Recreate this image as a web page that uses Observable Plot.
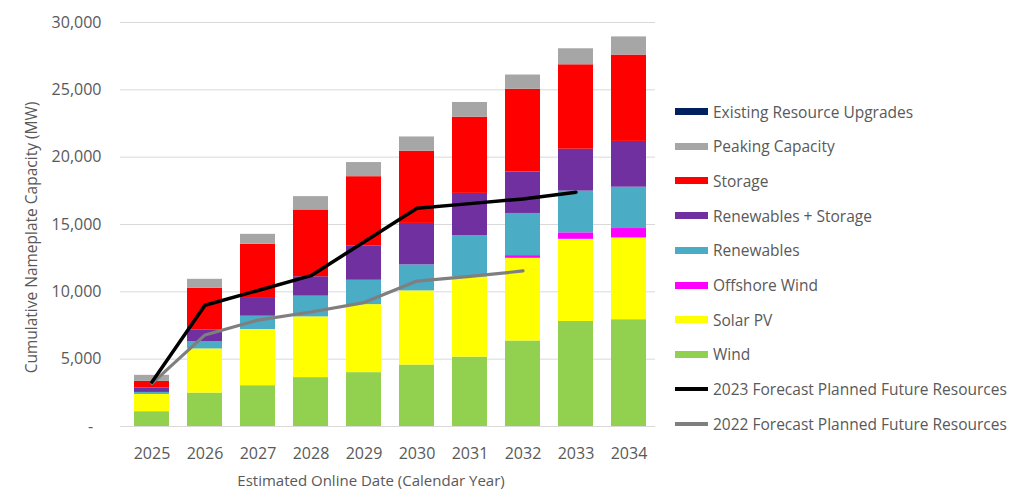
<!DOCTYPE html>
<html>
<head>
<meta charset="utf-8">
<script src="https://cdn.jsdelivr.net/npm/d3@7"></script>
<script src="https://cdn.jsdelivr.net/npm/@observablehq/plot@0.6"></script>
<style>
  html, body { margin: 0; padding: 0; background: #fff; }
  #wrap { position: relative; width: 1016px; height: 500px; font-family: "Open Sans", sans-serif; }
  #legend { position: absolute; left: 675px; top: 0; }
  .item { position: absolute; left: 0; display: flex; align-items: center; white-space: nowrap;
          font-size: 15.5px; color: #595959; transform: translateY(-50%); }
  .sw { width: 33px; margin-right: 5px; }
</style>
</head>
<body>
<div id="wrap"><div id="legend"></div></div>
<script>
// Calendar years on the x axis
const years = [2025, 2026, 2027, 2028, 2029, 2030, 2031, 2032, 2033, 2034];

// Cumulative nameplate capacity (MW) by resource type
const wind              = [1100, 2480, 3030, 3630, 4000, 4560, 5150, 6350, 7800, 7930];
const solarPV           = [1280, 3280, 4170, 4510, 5050, 5510, 5960, 6140, 6100, 6070];
const offshoreWind      = [   0,    0,    0,    0,    0,    0,    0,  200,  480,  700];
const renewables        = [ 150,  550,  990, 1540, 1810, 1930, 3070, 3130, 3100, 3070];
const renewablesStorage = [ 320,  840, 1320, 1440, 2530, 3080, 3130, 3080, 3110, 3400];
const storage           = [ 500, 3110, 4020, 4960, 5160, 5360, 5660, 6150, 6270, 6410];
const peaking           = [ 450,  670,  740,  990, 1050, 1060, 1090, 1050, 1190, 1350];
const existingUpgrades  = [   0,    0,    0,    0,    0,    0,    0,    0,    0,    0];

// Earlier forecasts of planned future resources (MW)
const forecast2023 = [3300, 9000, 10100, 11200, 13700, 16200, 16550, 16900, 17400];
const forecast2022 = [3200, 6800, 7900, 8500, 9200, 10800, 11150, 11550];

const yTicks = [0, 5000, 10000, 15000, 20000, 25000, 30000];

const seriesNames = ["Wind", "Solar PV", "Offshore Wind", "Renewables",
  "Renewables + Storage", "Storage", "Peaking Capacity", "Existing Resource Upgrades"];
const seriesColors = ["#92D050", "#FFFF00", "#FF00FF", "#4BACC6",
  "#7030A0", "#FF0000", "#A6A6A6", "#002060"];
const seriesValues = [wind, solarPV, offshoreWind, renewables,
  renewablesStorage, storage, peaking, existingUpgrades];

const barData = seriesNames.flatMap((name, i) =>
  years.map((year, j) => ({year, series: name, value: seriesValues[i][j]})));
const line2023 = forecast2023.map((v, j) => ({year: years[j], value: v}));
const line2022 = forecast2022.map((v, j) => ({year: years[j], value: v}));

const fmt = d3.format(",");
const textColor = "#595959";

const chart = Plot.plot({
  width: 1016,
  height: 500,
  marginLeft: 120,
  marginRight: 361,
  marginTop: 22,
  marginBottom: 74,
  style: {fontFamily: "Open Sans, sans-serif", fontSize: "16px", color: textColor, background: "white"},
  x: {type: "band", domain: years, paddingInner: 0.34, paddingOuter: 0.17, insetLeft: 4},
  y: {domain: [0, 30000]},
  color: {domain: seriesNames, range: seriesColors},
  marks: [
    Plot.gridY(yTicks, {stroke: "#d9d9d9", strokeOpacity: 1, strokeWidth: 1}),
    Plot.axisY(yTicks, {
      tickSize: 0, tickPadding: 19, label: null, fill: textColor,
      tickFormat: d => d === 0 ? "-\u00a0\u00a0" : fmt(d)
    }),
    Plot.axisX({tickSize: 0, tickPadding: 21, label: null, fill: textColor, tickFormat: d => String(d)}),
    Plot.barY(barData, {
      x: "year", y: "value", fill: "series",
      order: seriesNames
    }),
    Plot.line(line2022, {x: "year", y: "value", stroke: "#7F7F7F", strokeWidth: 3.2}),
    Plot.line(line2023, {x: "year", y: "value", stroke: "#000000", strokeWidth: 3.5}),
    Plot.text(["Estimated Online Date (Calendar Year)"], {
      frameAnchor: "bottom", dx: -17, dy: 55, lineAnchor: "middle",
      fontSize: 15, fill: textColor
    }),
    Plot.text(["Cumulative Nameplate Capacity (MW)"], {
      frameAnchor: "left", dx: -88, dy: 13, rotate: -90, textAnchor: "middle",
      fontSize: 15.5, fill: textColor
    })
  ]
});

const wrap = document.getElementById("wrap");
wrap.insertBefore(chart, wrap.firstChild);

// Legend: upper series first, then the forecast lines
const legend = document.getElementById("legend");
const legendItems = [
  ...seriesNames.map((n, i) => ({name: n, color: seriesColors[i], h: 7})).reverse(),
  {name: "2023 Forecast Planned Future Resources", color: "#000000", h: 3.5},
  {name: "2022 Forecast Planned Future Resources", color: "#7F7F7F", h: 3.5}
];
legendItems.forEach((it, i) => {
  const row = document.createElement("div");
  row.className = "item";
  row.style.top = (111.5 + i * 34.7) + "px";
  const sw = document.createElement("span");
  sw.className = "sw";
  sw.style.height = it.h + "px";
  sw.style.background = it.color;
  const label = document.createElement("span");
  label.textContent = it.name;
  row.appendChild(sw);
  row.appendChild(label);
  legend.appendChild(row);
});
</script>
</body>
</html>
